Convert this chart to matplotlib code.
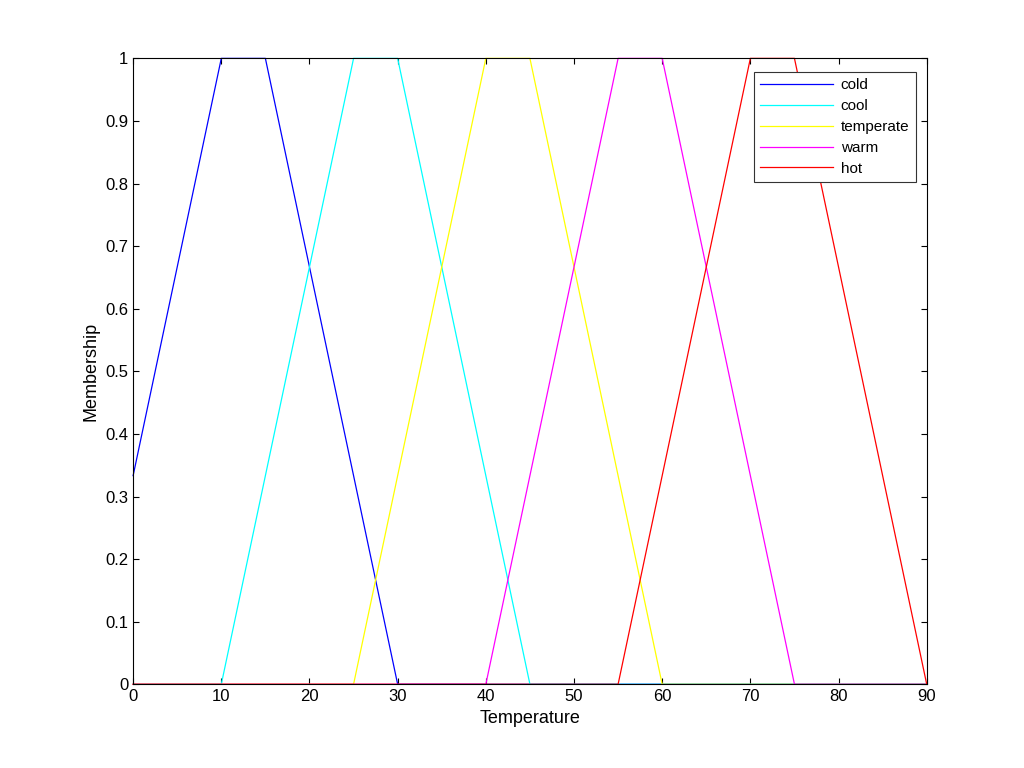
import numpy as np
import matplotlib
matplotlib.use("Agg")
import matplotlib.pyplot as plt

names = ["cold", "cool", "temperate", "warm", "hot"]
params = [[-5, 10, 15, 30], [10, 25, 30, 45], [25, 40, 45, 60], [40, 55, 60, 75], [55, 70, 75, 90]]
colors = ["#0000ff", "#00ffff", "#ffff00", "#ff00ff", "#ff0000"]

def trapmf(x, p):
    a, b, c, d = p
    up = (x - a) / (b - a)
    down = (d - x) / (d - c)
    return np.clip(np.minimum(np.minimum(up, 1), down), 0, 1)

x = np.linspace(0, 90, 1801)
plt.rcParams['font.family'] = ['Liberation Sans', 'DejaVu Sans']
fig = plt.figure(figsize=(10.24, 7.68), dpi=100)
ax = fig.add_axes([0.13, 0.109, 0.775, 0.815])
for n, p, c in zip(names, params, colors):
    ax.plot(x, trapmf(x, p), color=c, lw=0.9, label=n, clip_on=False)
ax.set_xlim(0, 90)
ax.set_ylim(0, 1)
ax.set_xticks(np.arange(0, 91, 10))
ax.set_yticks(np.round(np.arange(0, 1.01, 0.1), 1))
ax.set_yticklabels(["0", "0.1", "0.2", "0.3", "0.4", "0.5", "0.6", "0.7", "0.8", "0.9", "1"])
ax.tick_params(direction='in', top=True, right=True, labelsize=12, length=4)
ax.set_xlabel("Temperature", fontsize=13)
ax.set_ylabel("Membership", fontsize=13)
leg = ax.legend(loc='upper right', bbox_to_anchor=(0.986, 0.978), fancybox=False,
                edgecolor='#333333', fontsize=11, borderaxespad=0, handlelength=4.8,
                labelspacing=0.45, handletextpad=0.5, framealpha=1)
leg.get_frame().set_linewidth(0.8)
fig.savefig("out.png", dpi=100)
